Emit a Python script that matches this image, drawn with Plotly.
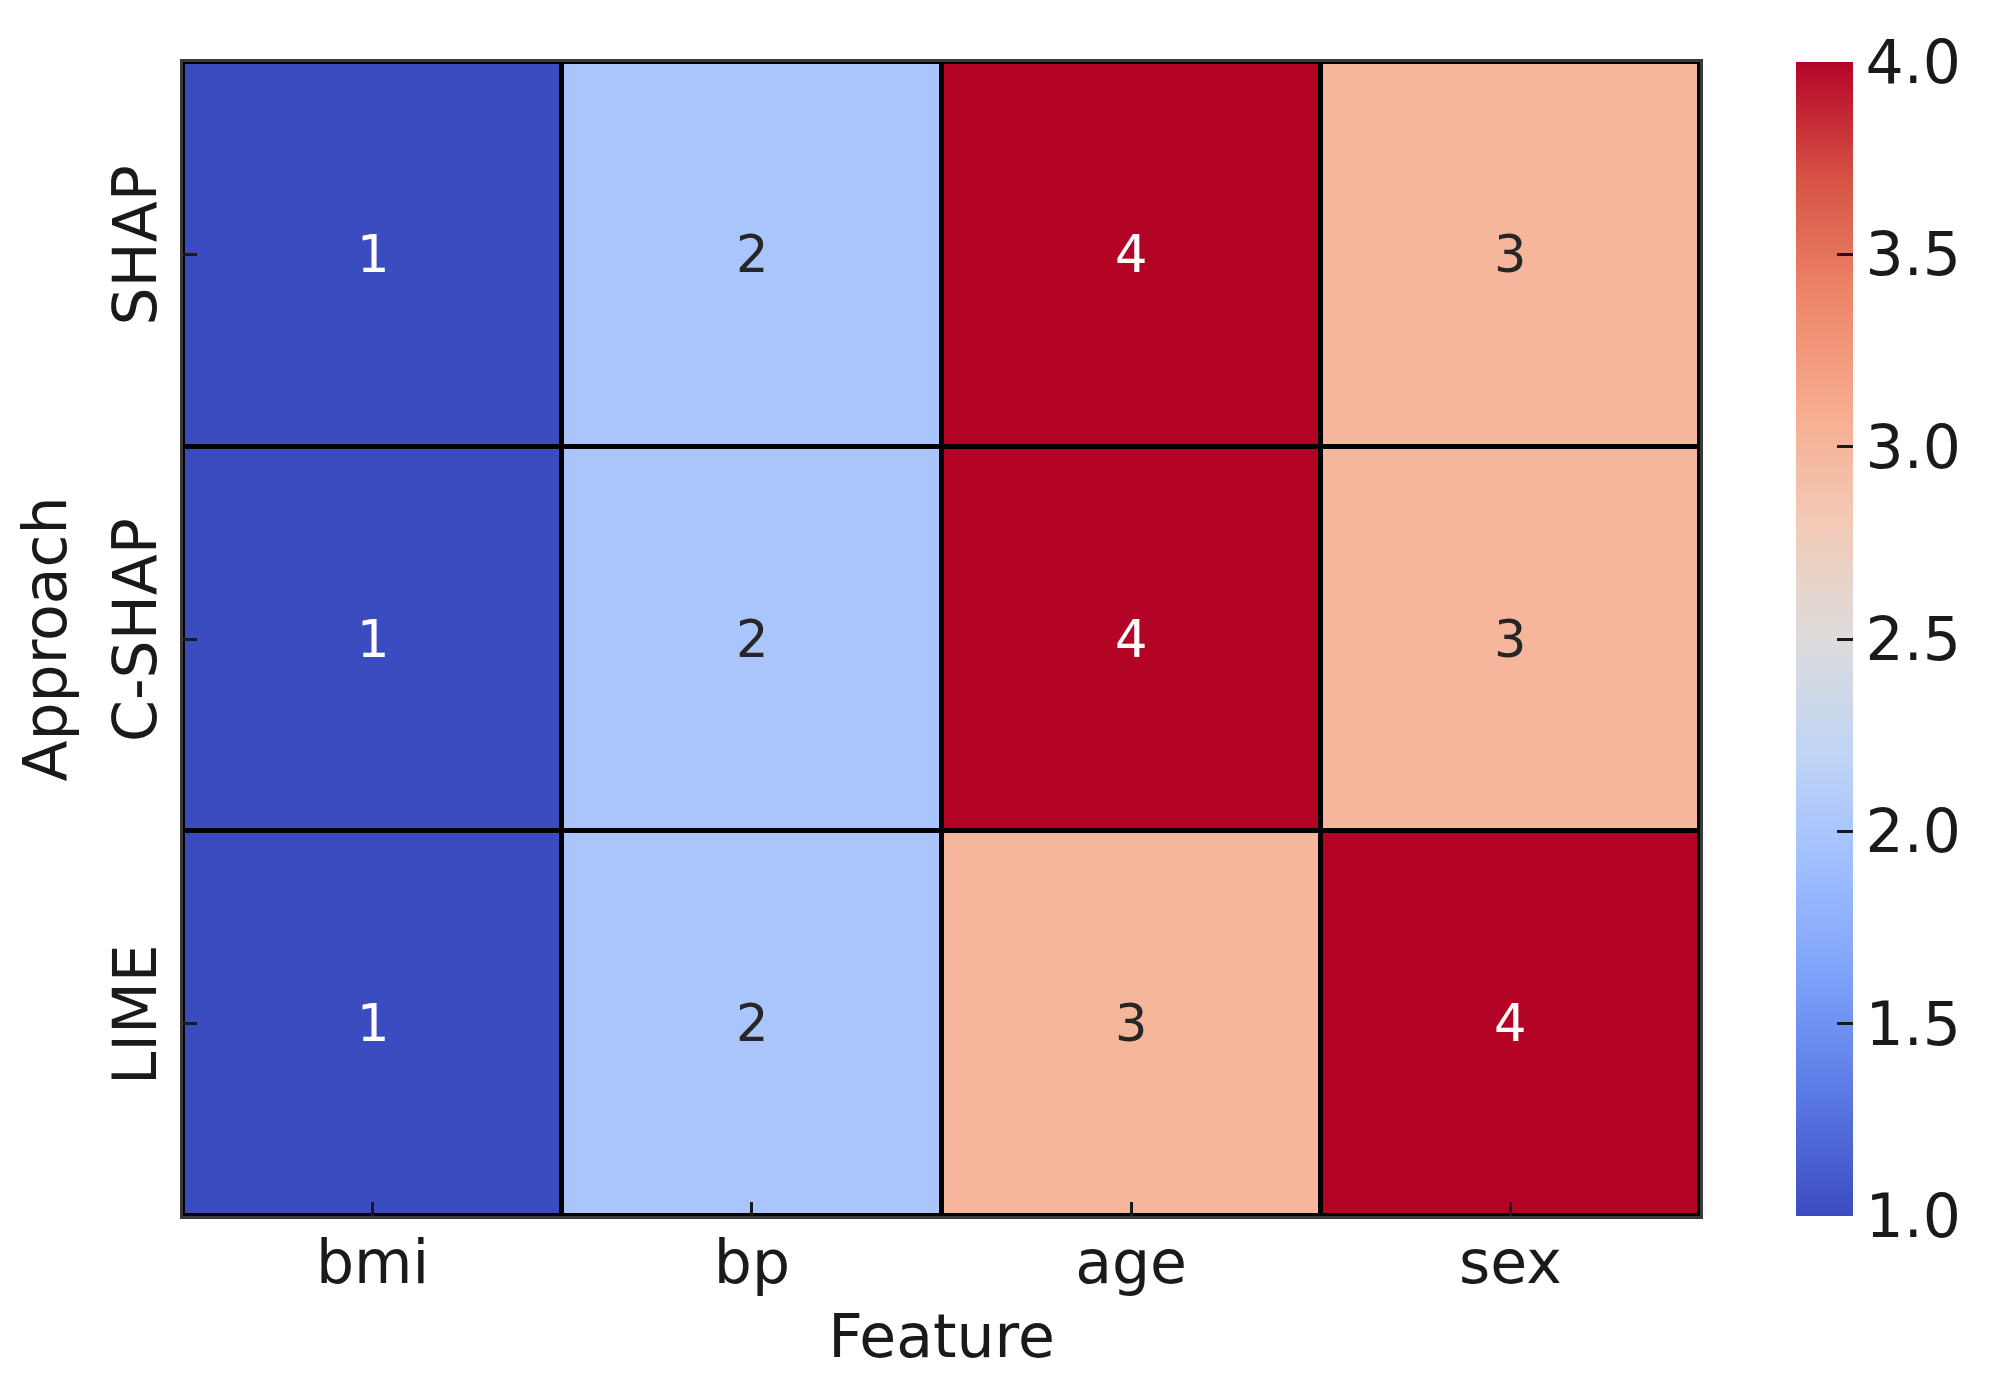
import plotly.graph_objects as go

features = ["bmi", "bp", "age", "sex"]
approaches = ["SHAP", "C-SHAP", "LIME"]
shap_rank = [1, 2, 4, 3]
cshap_rank = [1, 2, 4, 3]
lime_rank = [1, 2, 3, 4]
z = [shap_rank, cshap_rank, lime_rank]

coolwarm = [
    [0.0, "#3b4cc0"], [0.1, "#5977e3"], [0.2, "#7b9ff9"], [0.3, "#9ebeff"],
    [0.4, "#c0d4f5"], [0.5, "#dddcdc"], [0.6, "#f2cbb7"], [0.7, "#f7ac8e"],
    [0.8, "#ee8468"], [0.9, "#d65244"], [1.0, "#b40426"],
]

FONT = "DejaVu Sans"
TXT = "#1a1a1a"
FS = 60

L, R, T, B = 175, 303, 54, 171
plot_w = 1995 - L - R

fig = go.Figure()
fig.add_trace(go.Heatmap(
    z=z, x=features, y=approaches, zmin=1, zmax=4,
    colorscale=coolwarm, xgap=5, ygap=5,
    hoverinfo="skip",
    colorbar=dict(
        x=(1788 - L) / plot_w, xanchor="left", xref="paper", xpad=0,
        y=0.5, yanchor="middle", ypad=0,
        len=1.0, lenmode="fraction", thickness=57, outlinewidth=0,
        tickvals=[1.0, 1.5, 2.0, 2.5, 3.0, 3.5, 4.0],
        ticktext=["1.0", "1.5", "2.0", "2.5", "3.0", "3.5", "4.0"],
        ticks="inside", ticklen=16, tickwidth=3, tickcolor="#1a1a1a",
        tickfont=dict(family=FONT, size=FS, color=TXT),
    ),
))

vmin, vmax = 1, 4
for i, row in enumerate(z):
    for j, v in enumerate(row):
        frac = (v - vmin) / (vmax - vmin)
        color = "white" if (frac < 0.15 or frac > 0.85) else "#262626"
        fig.add_annotation(x=features[j], y=approaches[i], text=str(v),
                           showarrow=False,
                           font=dict(family=FONT, size=51, color=color))

fig.update_layout(
    width=1995, height=1379,
    margin=dict(l=L, r=R, t=T, b=B, autoexpand=False),
    paper_bgcolor="white", plot_bgcolor="black",
    font=dict(family=FONT, size=FS, color=TXT),
)
fig.update_xaxes(
    automargin=True,
    title=dict(text="Feature", font=dict(family=FONT, size=FS, color=TXT), standoff=19),
    ticks="inside", ticklen=14, tickwidth=3, tickcolor="#1a1a1a",
    ticklabelstandoff=-8,
    tickfont=dict(family=FONT, size=FS, color=TXT),
    showline=True, mirror=True, linecolor="#3a3a3a", linewidth=3,
    showgrid=False, zeroline=False,
)
fig.update_yaxes(
    automargin=False,
    title=dict(text="Approach", font=dict(family=FONT, size=FS, color=TXT)),
    autorange="reversed", tickangle=-90,
    ticks="inside", ticklen=14, tickwidth=3, tickcolor="#1a1a1a",
    tickfont=dict(family=FONT, size=FS, color=TXT),
    showline=True, mirror=True, linecolor="#3a3a3a", linewidth=3,
    showgrid=False, zeroline=False,
)

fig.write_html("out.html")
